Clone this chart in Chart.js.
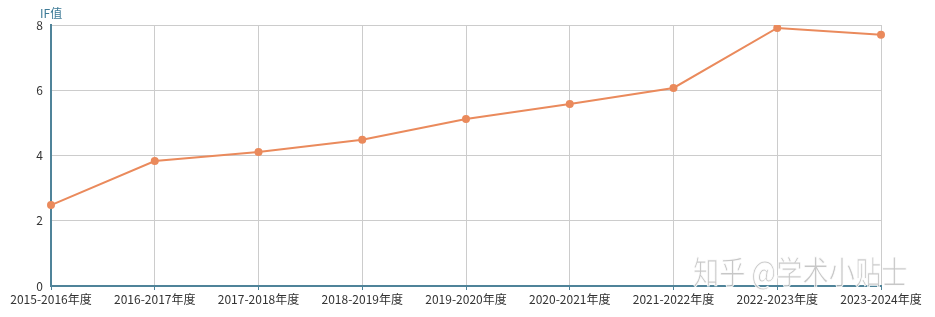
<!DOCTYPE html>
<html>
<head>
<meta charset="utf-8">
<script src="https://cdn.jsdelivr.net/npm/chart.js@4"></script>
<style>
body{margin:0;background:#fff}
#wrap{position:relative;width:935px;height:317px}
#mark{position:absolute;left:693px;top:250px;font:32px "Noto Sans CJK SC",sans-serif;color:rgba(185,185,185,0.8);
-webkit-text-stroke:1px rgba(255,255,255,0.9);white-space:nowrap;transform:scaleX(0.82);transform-origin:left top;line-height:40px}
</style>
</head>
<body>
<div id="wrap">
<canvas id="c" width="935" height="317"></canvas>
<div id="mark">知乎 @学术小贴士</div>
</div>
<script>
// 年度 / IF值
let years=["2015-2016年度","2016-2017年度","2017-2018年度","2018-2019年度","2019-2020年度","2020-2021年度","2021-2022年度","2022-2023年度","2023-2024年度"]
let ifValues=[2.48,3.83,4.11,4.48,5.12,5.58,6.07,7.91,7.70]
let yTicks=[0,2,4,6,8]

let axisColor="#4f8399"
let lineColor="#ea8a5c"
let font='"Microsoft YaHei","Noto Sans CJK SC",sans-serif'

let titlePlugin={
id:"ytitle",
afterDraw(chart){
let ctx=chart.ctx
let a=chart.chartArea
ctx.save()
ctx.fillStyle="#3d7a96"
ctx.font="12px "+font
ctx.textAlign="left"
ctx.textBaseline="middle"
ctx.fillText("IF值",a.left-11,a.top-12)
ctx.restore()
}
}

new Chart(document.getElementById("c"),{
type:"line",
data:{
labels:years,
datasets:[{
data:ifValues,
borderColor:lineColor,
backgroundColor:lineColor,
borderWidth:2,
pointRadius:3,
pointHoverRadius:3,
tension:0
}]
},
options:{
responsive:false,
animation:false,
layout:{padding:{top:25,right:54,left:0,bottom:0}},
plugins:{legend:{display:false},tooltip:{enabled:false}},
scales:{
x:{
offset:false,
grid:{color:"#cccccc",tickLength:4,tickColor:axisColor},
border:{color:axisColor,width:2},
ticks:{color:"#333",font:{size:12,family:font},maxRotation:0,autoSkip:false,padding:2},
afterFit(s){s.height=31}
},
y:{
min:0,max:8,
grid:{color:"#cccccc",drawTicks:false},
border:{color:axisColor,width:2},
afterBuildTicks(s){s.ticks=yTicks.map(v=>({value:v}))},
ticks:{color:"#333",font:{size:12,family:font},padding:8},
afterFit(s){s.width=51}
}
}
},
plugins:[titlePlugin]
})
</script>
</body>
</html>
